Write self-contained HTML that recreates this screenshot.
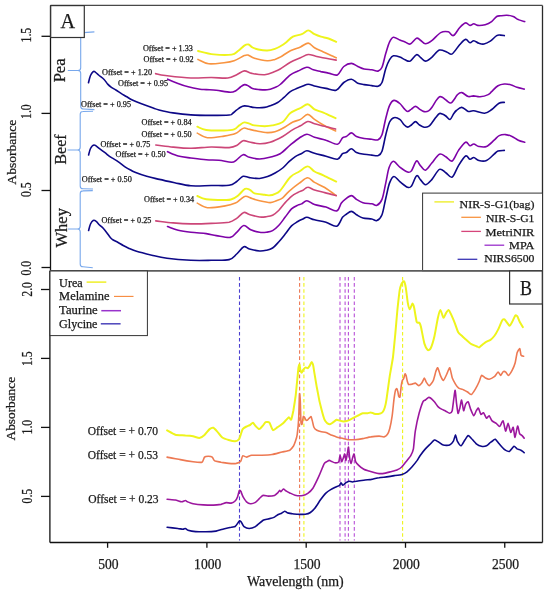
<!DOCTYPE html><html><head><meta charset="utf-8"><style>html,body{margin:0;padding:0;background:#fff;}svg{display:block;filter:blur(0.3px);}text{font-family:"Liberation Serif",serif;fill:#1a1a1a;stroke:#1a1a1a;stroke-width:0.25px;}</style></head><body>
<svg width="550" height="595" viewBox="0 0 550 595">
<rect width="550" height="595" fill="#fff"/>
<g fill="none" stroke-linecap="round" stroke-linejoin="round" stroke-width="1.6">
<path d="M198.0,51.0 C200.6,51.6 208.2,53.8 213.8,54.4 C219.4,55.0 227.6,55.2 231.6,54.6 C235.6,54.0 235.9,52.5 238.0,51.0 C240.1,49.5 242.6,46.7 244.3,45.6 C246.1,44.5 247.1,44.2 248.5,44.5 C249.9,44.8 250.9,46.7 252.5,47.5 C254.1,48.3 255.9,49.0 258.3,49.5 C260.8,50.0 264.4,50.6 267.2,50.5 C270.0,50.4 272.8,49.5 274.9,48.8 C277.0,48.1 278.3,47.5 280.0,46.5 C281.7,45.5 283.2,44.7 285.3,43.1 C287.4,41.5 290.1,38.2 292.9,36.7 C295.6,35.2 299.2,35.2 301.8,34.2 C304.4,33.2 306.1,30.4 308.2,30.4 C310.3,30.4 312.4,33.2 314.5,34.2 C316.6,35.2 318.6,36.0 320.9,36.7 C323.2,37.4 325.9,37.6 328.5,38.5 C331.1,39.4 334.9,41.2 336.2,41.8" stroke="#EEF41C" stroke-width="1.9"/>
<path d="M198.0,59.4 C199.8,60.1 204.4,63.2 208.7,63.8 C213.0,64.3 219.8,63.2 224.0,62.7 C228.2,62.2 230.7,61.9 234.1,60.7 C237.5,59.5 242.0,56.5 244.3,55.6 C246.6,54.7 246.4,54.7 248.1,55.1 C249.8,55.5 251.3,57.3 254.5,58.2 C257.7,59.1 263.8,60.5 267.2,60.7 C270.6,60.9 272.7,60.0 274.9,59.4 C277.1,58.8 277.6,58.5 280.2,57.1 C282.8,55.7 287.0,52.4 290.4,50.7 C293.8,49.0 297.5,48.2 300.5,46.9 C303.5,45.6 305.9,43.0 308.2,43.1 C310.5,43.2 312.0,46.2 314.5,47.7 C317.0,49.2 319.8,50.3 323.4,52.0 C327.0,53.7 334.1,56.8 336.2,57.8" stroke="#F89441"/>
<path d="M155.6,73.6 C157.2,73.9 159.5,74.8 165.4,75.5 C171.3,76.2 183.3,77.7 190.9,78.0 C198.5,78.3 205.0,77.5 211.2,77.5 C217.3,77.5 223.6,78.5 227.8,78.0 C232.1,77.5 233.9,75.9 236.7,74.7 C239.4,73.5 241.8,71.1 244.3,70.9 C246.9,70.7 248.6,72.8 252.0,73.4 C255.4,74.0 260.9,75.0 264.7,74.7 C268.5,74.4 272.3,72.5 274.9,71.5 C277.5,70.5 277.6,70.5 280.2,69.0 C282.8,67.5 287.0,64.1 290.4,62.2 C293.8,60.3 297.5,59.1 300.5,57.8 C303.5,56.5 305.6,54.8 308.2,54.5 C310.8,54.2 312.8,55.7 315.8,56.3 C318.8,56.9 322.6,57.7 326.0,58.3 C329.4,58.9 334.5,59.8 336.2,60.1" stroke="#CC4678"/>
<path d="M167.6,79.2 C169.2,79.9 173.9,81.9 177.3,83.2 C180.7,84.5 184.4,85.8 188.2,86.8 C192.0,87.8 197.0,88.7 200.0,89.2 C203.0,89.7 203.5,89.4 206.2,89.6 C208.9,89.8 212.3,89.8 216.3,90.2 C220.3,90.7 227.0,92.2 230.3,92.3 C233.6,92.3 234.5,91.4 236.2,90.5 C237.9,89.6 239.1,88.0 240.5,87.0 C241.9,86.0 243.3,84.8 244.6,84.6 C245.9,84.4 247.2,85.3 248.5,86.0 C249.8,86.7 250.9,87.9 252.5,88.5 C254.1,89.1 255.9,89.3 258.3,89.5 C260.8,89.7 264.4,90.1 267.2,89.8 C270.0,89.5 272.7,88.3 274.9,87.4 C277.1,86.5 277.6,86.6 280.2,84.5 C282.8,82.4 287.4,77.1 290.4,74.9 C293.4,72.7 295.2,72.4 298.0,71.1 C300.8,69.8 304.3,67.5 306.9,67.3 C309.4,67.1 311.0,69.1 313.3,69.8 C315.6,70.5 318.4,71.0 320.9,71.6 C323.4,72.1 325.8,72.5 328.5,73.1 C331.2,73.6 334.8,76.0 337.4,74.9 C339.9,73.8 341.5,68.4 343.8,66.5 C346.1,64.6 349.1,63.4 351.4,63.4 C353.7,63.4 355.7,65.6 357.8,66.5 C359.9,67.4 361.8,68.5 364.1,69.0 C366.4,69.5 369.5,69.5 371.8,69.8 C374.1,70.1 376.4,71.5 378.1,71.1 C379.8,70.7 380.7,70.3 382.0,67.3 C383.3,64.3 384.5,57.5 385.8,53.3 C387.1,49.0 388.3,44.5 389.6,41.8 C390.9,39.1 391.7,37.5 393.4,37.2 C395.1,36.9 397.9,39.2 399.8,40.0 C401.8,40.8 403.4,41.3 405.1,42.0 C406.8,42.7 408.3,44.6 410.2,44.0 C412.1,43.4 414.8,38.8 416.5,38.2 C418.2,37.6 418.9,39.3 420.4,40.2 C421.9,41.1 423.5,43.7 425.4,43.8 C427.3,43.9 429.2,42.6 431.8,40.7 C434.4,38.8 437.9,34.1 440.7,32.6 C443.4,31.1 446.2,31.3 448.3,31.8 C450.4,32.3 451.5,36.3 453.4,35.6 C455.3,34.9 457.8,29.6 459.8,27.5 C461.8,25.4 463.9,23.2 465.6,22.9 C467.3,22.5 468.6,25.3 470.0,25.4 C471.4,25.5 472.5,23.7 473.8,23.7 C475.1,23.7 475.7,25.2 477.6,25.4 C479.5,25.6 482.9,25.3 485.2,24.7 C487.5,24.1 489.7,23.0 491.6,21.6 C493.5,20.2 495.2,17.5 496.7,16.5 C498.2,15.5 498.8,16.0 500.5,15.8 C502.2,15.6 504.8,15.2 506.9,15.3 C509.0,15.4 511.3,15.8 513.2,16.5 C515.1,17.2 516.4,18.8 518.3,19.6 C520.2,20.5 523.6,21.3 524.7,21.6" stroke="#7E03A8"/>
<path d="M88.5,82.7 C88.8,81.5 89.7,77.3 90.5,75.5 C91.3,73.7 92.5,72.2 93.2,71.6 C94.0,71.0 94.1,71.2 95.0,71.8 C95.9,72.4 97.1,73.7 98.6,75.0 C100.1,76.3 102.6,78.0 104.1,79.5 C105.6,81.0 106.5,82.8 107.7,84.1 C108.9,85.4 110.0,86.3 111.4,87.3 C112.8,88.3 114.2,89.0 115.9,90.0 C117.6,91.0 119.6,92.5 121.4,93.6 C123.2,94.7 125.0,95.7 126.8,96.8 C128.6,97.9 129.9,98.8 132.3,100.0 C134.8,101.2 138.0,102.5 141.5,103.8 C145.0,105.1 150.3,107.0 153.2,108.0 C156.1,109.0 155.7,109.2 159.0,110.0 C162.3,110.8 167.7,112.1 173.0,112.9 C178.3,113.7 184.5,114.5 190.9,114.9 C197.3,115.3 204.8,115.4 211.2,115.4 C217.6,115.4 225.8,115.3 229.3,115.0 C232.9,114.7 231.3,114.3 232.5,113.5 C233.7,112.7 235.2,111.2 236.5,110.2 C237.8,109.2 239.2,107.9 240.5,107.2 C241.8,106.5 243.0,106.0 244.5,105.9 C246.0,105.8 247.6,106.2 249.3,106.5 C251.0,106.8 251.9,107.3 254.5,107.5 C257.1,107.7 262.1,107.7 264.7,107.4 C267.3,107.1 267.9,106.6 270.1,105.8 C272.3,105.0 275.4,103.9 277.7,102.5 C280.0,101.1 281.9,99.2 284.0,97.4 C286.1,95.6 288.2,93.2 290.3,91.7 C292.4,90.2 294.5,89.5 296.6,88.6 C298.7,87.7 301.0,86.8 302.9,86.1 C304.8,85.4 306.0,84.2 308.2,84.2 C310.4,84.2 312.8,85.6 315.8,86.3 C318.8,87.0 322.6,87.8 326.0,88.4 C329.4,89.1 333.2,91.2 336.2,90.2 C339.2,89.2 341.3,84.3 343.8,82.5 C346.3,80.7 349.1,79.1 351.4,79.2 C353.7,79.3 355.7,82.4 357.8,83.3 C359.9,84.2 361.8,84.2 364.1,84.6 C366.4,85.0 369.5,85.3 371.8,85.6 C374.1,85.9 376.4,86.8 378.1,86.3 C379.8,85.8 380.7,85.5 382.0,82.5 C383.3,79.5 384.5,72.3 385.8,68.5 C387.1,64.7 388.3,61.7 389.6,59.6 C390.9,57.5 391.7,56.2 393.4,55.8 C395.1,55.4 397.9,56.4 399.8,57.1 C401.8,57.8 403.4,59.1 405.1,59.8 C406.8,60.5 408.3,62.0 410.2,61.1 C412.1,60.2 414.8,55.3 416.5,54.7 C418.2,54.1 418.9,56.2 420.4,57.3 C421.9,58.4 423.5,61.1 425.4,61.1 C427.3,61.1 429.5,59.1 431.8,57.3 C434.1,55.5 436.8,51.0 439.4,50.1 C441.9,49.2 445.0,51.6 447.1,52.2 C449.2,52.8 450.1,55.2 452.2,53.9 C454.3,52.6 457.6,46.9 459.8,44.5 C462.0,42.1 463.9,39.7 465.6,39.4 C467.3,39.1 468.6,42.5 470.0,42.7 C471.4,42.9 472.3,40.6 473.8,40.7 C475.3,40.8 477.2,42.8 478.9,43.3 C480.6,43.8 482.1,44.4 484.0,44.0 C485.9,43.6 488.2,42.6 490.3,41.2 C492.4,39.8 495.0,36.6 496.7,35.6 C498.4,34.6 499.2,35.1 500.5,35.1 C501.8,35.1 503.7,35.5 504.3,35.6" stroke="#0D0887"/>
<path d="M197.3,126.7 C198.8,127.2 201.8,129.4 206.2,130.0 C210.6,130.6 219.3,130.6 224.0,130.5 C228.7,130.4 231.6,130.2 234.1,129.3 C236.6,128.5 237.5,126.6 239.2,125.4 C240.9,124.2 242.6,122.7 244.3,122.4 C246.0,122.1 247.7,123.2 249.4,123.7 C251.1,124.2 251.9,125.0 254.5,125.4 C257.1,125.8 261.7,126.2 264.7,126.2 C267.7,126.2 269.3,126.1 272.3,125.4 C275.3,124.7 279.7,124.0 282.7,122.0 C285.7,120.0 287.4,115.4 290.4,113.1 C293.4,110.8 297.6,109.5 300.5,108.0 C303.4,106.5 305.4,104.0 307.7,104.2 C310.0,104.4 311.9,107.9 314.5,109.3 C317.1,110.7 319.9,111.1 323.4,112.6 C326.9,114.1 333.6,117.3 335.6,118.2" stroke="#EEF41C" stroke-width="1.9"/>
<path d="M197.3,133.1 C199.0,133.9 203.0,137.2 207.4,137.7 C211.8,138.2 219.3,136.8 224.0,136.1 C228.7,135.4 232.7,134.6 235.4,133.6 C238.2,132.6 239.0,130.9 240.5,130.0 C242.0,129.1 242.8,128.1 244.3,128.0 C245.8,127.9 247.3,128.8 249.4,129.3 C251.5,129.8 254.0,130.4 257.0,131.0 C260.0,131.6 264.2,132.5 267.2,132.6 C270.2,132.7 272.3,132.5 274.9,131.8 C277.5,131.1 279.7,129.9 282.7,128.3 C285.7,126.7 289.9,123.5 292.9,122.0 C295.9,120.5 298.0,120.7 300.5,119.4 C303.0,118.1 305.4,114.4 307.7,114.4 C310.0,114.4 311.7,117.5 314.5,119.4 C317.3,121.3 321.2,123.9 324.7,125.8 C328.2,127.7 333.8,130.1 335.6,130.9" stroke="#F89441"/>
<path d="M155.8,145.0 C158.7,145.3 167.2,146.5 173.1,147.1 C178.9,147.7 184.6,148.3 190.9,148.3 C197.2,148.3 204.8,147.1 211.2,147.0 C217.6,146.9 224.8,147.8 229.1,147.6 C233.3,147.3 234.4,146.7 236.7,145.5 C239.0,144.3 241.0,141.3 243.1,140.7 C245.2,140.1 246.7,141.5 249.4,142.0 C252.2,142.5 256.2,143.8 259.6,143.8 C263.0,143.9 266.1,143.5 270.0,142.3 C273.9,141.1 278.9,138.6 282.7,136.5 C286.5,134.4 289.9,131.4 292.9,129.6 C295.9,127.8 298.0,127.1 300.5,125.8 C303.0,124.5 305.4,121.8 307.7,121.5 C310.0,121.2 311.7,123.0 314.5,123.8 C317.3,124.6 321.2,125.4 324.7,126.3 C328.2,127.2 333.8,128.6 335.6,129.1" stroke="#CC4678"/>
<path d="M167.5,151.7 C169.3,152.4 174.3,154.9 178.2,156.0 C182.1,157.1 186.2,157.4 190.9,158.0 C195.6,158.6 201.5,159.4 206.2,159.8 C210.9,160.2 214.7,159.9 218.9,160.3 C223.1,160.7 228.6,162.4 231.6,162.3 C234.6,162.2 234.8,161.1 236.7,159.8 C238.6,158.5 241.0,155.1 243.1,154.7 C245.2,154.3 246.7,156.6 249.4,157.3 C252.2,158.0 256.2,159.0 259.6,159.0 C263.0,159.0 266.4,158.2 269.8,157.3 C273.2,156.4 276.8,155.9 280.2,153.8 C283.6,151.7 287.2,147.5 290.4,144.9 C293.6,142.3 296.6,139.8 299.3,138.0 C302.1,136.2 304.4,134.3 306.9,134.2 C309.4,134.1 311.3,136.3 314.5,137.3 C317.7,138.3 322.2,139.0 326.0,140.2 C329.8,141.3 334.6,144.6 337.4,144.2 C340.1,143.8 341.0,139.1 342.5,137.8 C344.0,136.5 344.8,137.3 346.3,136.5 C347.8,135.7 349.7,132.9 351.4,132.9 C353.1,132.9 354.4,135.6 356.5,136.5 C358.6,137.4 361.6,138.0 364.1,138.5 C366.7,139.0 369.5,139.1 371.8,139.3 C374.1,139.5 376.4,140.6 378.1,139.8 C379.8,139.0 380.7,138.3 382.0,134.7 C383.3,131.1 384.5,123.1 385.8,118.2 C387.1,113.3 388.2,108.4 389.6,105.4 C391.0,102.4 392.2,100.7 393.9,100.4 C395.6,100.1 398.1,102.1 399.8,103.5 C401.5,104.9 402.8,107.3 404.1,108.6 C405.4,109.9 406.5,111.4 407.7,111.5 C408.9,111.6 410.1,109.9 411.4,109.1 C412.7,108.2 414.1,106.4 415.5,106.4 C416.9,106.4 418.1,108.2 419.5,109.1 C420.9,110.0 422.6,111.3 424.1,111.6 C425.6,111.9 427.2,111.7 428.6,110.9 C430.0,110.1 431.1,108.5 432.3,106.8 C433.5,105.1 434.7,102.6 435.9,100.9 C437.1,99.2 438.4,97.4 439.5,96.8 C440.6,96.2 441.1,96.7 442.3,97.3 C443.5,97.9 445.1,99.5 446.5,100.5 C447.9,101.5 449.6,103.2 450.9,103.0 C452.2,102.8 453.4,100.4 454.5,99.0 C455.6,97.6 456.1,95.9 457.3,94.8 C458.5,93.7 460.0,92.3 461.8,92.6 C463.6,92.9 466.2,96.0 468.2,96.5 C470.2,97.0 471.6,95.9 473.6,95.9 C475.6,96.0 477.6,97.0 480.0,96.8 C482.4,96.6 486.3,95.5 488.2,94.6 C490.1,93.7 490.0,93.1 491.6,91.6 C493.2,90.1 495.9,87.1 498.0,85.8 C500.1,84.5 502.2,84.2 504.3,84.0 C506.4,83.8 508.6,84.2 510.7,84.8 C512.8,85.3 514.8,86.6 517.0,87.3 C519.2,88.0 523.0,88.8 524.2,89.1" stroke="#7E03A8"/>
<path d="M88.6,155.0 C88.9,153.9 89.6,150.2 90.5,148.5 C91.4,146.8 92.6,145.0 94.1,145.0 C95.6,145.0 97.7,147.3 99.5,148.6 C101.3,149.9 103.3,151.4 105.0,152.7 C106.7,154.0 108.0,155.3 109.5,156.4 C111.0,157.5 112.4,158.1 114.1,159.1 C115.8,160.1 117.7,161.4 119.5,162.7 C121.3,164.0 123.2,165.6 125.0,166.8 C126.8,168.0 128.8,169.1 130.5,170.0 C132.2,170.9 132.3,171.2 135.0,172.3 C137.7,173.4 142.6,175.1 146.7,176.3 C150.8,177.5 154.7,178.3 159.4,179.4 C164.1,180.5 169.4,181.6 174.7,182.7 C179.9,183.8 184.8,185.3 190.9,185.8 C197.0,186.3 204.8,185.6 211.2,185.5 C217.6,185.4 224.8,186.0 229.1,185.3 C233.3,184.6 234.4,183.0 236.7,181.5 C239.0,180.0 241.0,177.0 243.1,176.3 C245.2,175.7 246.7,177.2 249.4,177.6 C252.2,178.0 256.6,178.7 259.6,178.5 C262.6,178.3 265.0,177.5 267.6,176.6 C270.2,175.7 272.6,174.4 275.1,173.0 C277.6,171.6 280.4,169.9 282.7,168.0 C285.0,166.1 286.9,163.6 289.0,161.7 C291.1,159.8 293.2,158.0 295.3,156.6 C297.4,155.2 299.7,154.5 301.6,153.5 C303.5,152.5 304.8,150.8 306.9,150.8 C309.0,150.8 311.3,152.4 314.5,153.3 C317.7,154.2 322.2,155.2 326.0,156.2 C329.8,157.2 334.6,159.6 337.4,159.2 C340.1,158.8 341.0,154.7 342.5,153.6 C344.0,152.5 344.8,153.3 346.3,152.5 C347.8,151.7 349.7,148.7 351.4,148.7 C353.1,148.7 354.4,151.6 356.5,152.5 C358.6,153.4 361.6,153.9 364.1,154.3 C366.7,154.7 369.5,154.9 371.8,155.1 C374.1,155.3 376.4,156.2 378.1,155.6 C379.8,154.9 380.7,154.7 382.0,151.2 C383.3,147.7 384.5,139.6 385.8,134.7 C387.1,129.8 388.2,124.8 389.6,122.0 C391.0,119.2 392.2,118.1 393.9,117.7 C395.6,117.3 398.1,118.2 399.8,119.4 C401.5,120.6 402.8,123.4 404.1,124.7 C405.4,126.0 406.5,127.0 407.7,127.1 C408.9,127.1 410.1,125.9 411.4,125.0 C412.7,124.1 414.1,121.6 415.5,121.6 C416.9,121.6 418.1,124.1 419.5,125.0 C420.9,125.9 422.6,127.0 424.1,127.2 C425.6,127.4 427.2,127.2 428.6,126.4 C430.0,125.6 431.1,123.8 432.3,122.3 C433.5,120.8 434.7,118.8 435.9,117.3 C437.1,115.8 438.4,114.0 439.5,113.5 C440.6,113.0 441.2,113.7 442.3,114.1 C443.4,114.5 444.5,115.1 445.8,116.0 C447.1,116.9 448.7,119.8 450.0,119.5 C451.3,119.2 452.4,115.5 453.5,114.0 C454.6,112.5 455.0,111.6 456.4,110.5 C457.8,109.4 459.8,107.2 461.8,107.4 C463.8,107.6 466.2,110.8 468.2,111.4 C470.2,112.0 470.9,110.5 473.6,110.8 C476.3,111.1 481.5,113.4 484.5,113.2 C487.5,113.0 489.4,111.2 491.8,109.5 C494.2,107.8 496.9,104.4 499.0,103.2 C501.1,102.0 503.4,102.5 504.3,102.4" stroke="#0D0887"/>
<path d="M197.3,196.0 C198.8,196.6 201.8,198.6 206.2,199.3 C210.6,200.0 219.9,200.0 224.0,200.0 C228.1,200.0 228.7,200.2 231.0,199.5 C233.3,198.8 235.6,197.5 237.9,195.7 C240.2,193.9 243.0,189.9 245.0,188.9 C247.0,187.9 248.3,189.1 249.9,189.8 C251.5,190.6 252.0,192.6 254.5,193.4 C257.0,194.2 262.1,194.4 264.7,194.7 C267.3,195.0 268.4,195.5 270.1,195.3 C271.8,195.2 273.4,194.6 275.1,193.8 C276.8,193.0 277.6,193.4 280.2,190.6 C282.8,187.8 287.2,180.2 290.4,177.0 C293.6,173.8 296.4,173.3 299.3,171.5 C302.2,169.7 305.2,166.4 307.7,166.4 C310.2,166.4 311.9,170.0 314.5,171.5 C317.1,173.0 319.8,173.6 323.4,175.3 C327.0,177.0 334.1,180.6 336.2,181.6" stroke="#EEF41C" stroke-width="1.9"/>
<path d="M197.3,203.1 C199.0,203.9 203.0,207.2 207.4,207.7 C211.8,208.2 219.3,206.9 224.0,206.1 C228.7,205.3 232.7,204.2 235.4,203.1 C238.2,202.0 238.8,200.5 240.5,199.3 C242.2,198.2 243.7,196.3 245.6,196.2 C247.5,196.1 249.7,197.7 252.0,198.5 C254.3,199.3 256.6,200.1 259.6,200.8 C262.6,201.5 267.3,202.6 270.1,202.6 C272.9,202.6 274.3,201.5 276.4,200.7 C278.5,199.9 280.6,199.4 282.7,197.8 C284.8,196.2 286.2,193.7 289.0,191.3 C291.8,188.9 296.2,185.4 299.3,183.2 C302.4,180.9 305.2,177.9 307.7,177.8 C310.2,177.7 311.7,180.8 314.5,182.4 C317.3,184.0 321.1,185.3 324.7,187.5 C328.3,189.7 334.3,194.2 336.2,195.6" stroke="#F89441"/>
<path d="M155.8,220.9 C158.7,221.2 167.2,222.4 173.1,222.9 C178.9,223.4 184.6,223.8 190.9,223.9 C197.2,224.0 204.8,223.7 211.2,223.4 C217.6,223.1 224.8,223.0 229.1,222.2 C233.3,221.3 234.2,219.9 236.7,218.3 C239.1,216.7 241.7,213.1 243.8,212.5 C245.9,211.9 246.8,213.8 249.4,214.5 C252.0,215.2 256.8,216.6 259.6,217.0 C262.4,217.4 264.1,217.0 266.3,216.7 C268.5,216.4 270.5,216.3 272.6,215.2 C274.7,214.1 276.8,212.3 278.9,210.2 C281.0,208.1 283.1,204.9 285.2,202.6 C287.3,200.3 289.4,198.0 291.5,196.3 C293.6,194.6 295.9,193.5 297.8,192.5 C299.7,191.5 301.2,191.2 302.9,190.3 C304.5,189.4 305.8,187.2 307.7,187.2 C309.6,187.1 311.7,189.1 314.5,190.0 C317.3,190.9 321.1,191.7 324.7,192.6 C328.3,193.5 334.3,195.1 336.2,195.6" stroke="#CC4678"/>
<path d="M167.5,226.5 C169.3,227.1 174.3,229.3 178.2,230.3 C182.1,231.3 186.2,231.8 190.9,232.3 C195.6,232.9 202.0,233.1 206.2,233.6 C210.4,234.1 212.3,235.0 216.3,235.6 C220.3,236.2 226.9,237.9 230.3,237.4 C233.7,236.9 234.4,234.3 236.7,232.3 C238.9,230.3 241.5,225.9 243.8,225.5 C246.1,225.1 248.1,228.7 250.7,229.8 C253.3,230.9 257.0,231.9 259.6,232.3 C262.2,232.7 264.1,232.5 266.3,232.2 C268.5,231.9 270.5,231.8 272.6,230.6 C274.7,229.4 276.8,227.6 278.9,225.3 C281.0,223.1 283.1,219.8 285.2,217.1 C287.3,214.4 289.4,210.9 291.5,208.9 C293.6,206.9 296.1,205.9 297.8,205.1 C299.5,204.3 300.1,204.6 301.6,203.9 C303.1,203.2 304.8,200.6 306.9,200.7 C309.0,200.8 311.3,203.4 314.5,204.5 C317.7,205.6 322.3,206.0 326.0,207.1 C329.7,208.2 334.2,211.5 336.7,210.9 C339.2,210.3 339.8,205.2 341.2,203.3 C342.6,201.4 343.4,200.7 345.1,199.4 C346.8,198.1 349.5,195.6 351.4,195.6 C353.3,195.6 354.6,198.2 356.5,199.4 C358.4,200.6 360.3,202.0 362.9,202.7 C365.4,203.4 369.5,203.4 371.8,203.8 C374.1,204.2 375.2,206.0 376.9,205.3 C378.6,204.6 380.5,203.1 382.0,199.4 C383.5,195.7 384.6,188.2 385.8,182.9 C387.0,177.6 387.8,171.2 389.1,167.6 C390.4,164.0 391.6,161.4 393.4,161.3 C395.2,161.2 397.4,165.3 399.8,167.1 C402.2,168.9 405.7,171.4 407.6,172.0 C409.6,172.6 410.0,172.5 411.5,170.7 C413.0,168.9 415.0,161.8 416.5,161.0 C418.0,160.2 418.9,164.1 420.4,165.6 C421.9,167.1 423.5,170.6 425.4,170.2 C427.3,169.8 429.5,165.8 431.8,163.1 C434.1,160.4 437.1,155.3 439.4,154.2 C441.7,153.1 443.7,155.6 445.8,156.7 C447.9,157.8 450.1,162.1 452.2,161.0 C454.3,159.9 456.3,153.5 458.5,150.4 C460.7,147.3 463.7,143.0 465.6,142.2 C467.5,141.4 468.6,145.5 470.0,145.8 C471.4,146.1 472.3,143.9 473.8,144.0 C475.3,144.1 476.8,146.1 478.9,146.5 C481.0,146.9 484.0,147.6 486.5,146.5 C489.0,145.4 492.0,142.0 494.1,140.2 C496.2,138.4 497.3,136.5 499.2,135.6 C501.1,134.7 503.5,134.5 505.6,134.6 C507.7,134.7 509.9,135.5 512.0,136.4 C514.1,137.3 516.2,139.2 518.3,140.2 C520.4,141.2 523.6,141.9 524.7,142.2" stroke="#7E03A8"/>
<path d="M88.6,230.5 C88.9,229.4 89.7,225.7 90.5,224.0 C91.3,222.3 92.3,221.0 93.2,220.5 C94.1,220.0 94.9,220.4 95.9,221.2 C97.0,221.9 98.3,223.8 99.5,225.0 C100.7,226.2 102.0,226.9 103.2,228.2 C104.4,229.5 105.6,231.1 106.8,232.7 C108.0,234.3 109.4,236.5 110.5,237.7 C111.6,238.9 112.0,239.2 113.2,240.0 C114.4,240.8 116.0,241.4 117.7,242.3 C119.4,243.2 121.4,244.5 123.2,245.5 C125.0,246.5 126.4,247.2 128.6,248.2 C130.8,249.2 132.6,250.1 136.5,251.3 C140.4,252.5 146.7,254.0 151.8,255.2 C156.9,256.4 160.5,257.4 167.0,258.3 C173.5,259.2 183.5,260.0 190.9,260.3 C198.3,260.6 204.8,260.4 211.2,260.3 C217.6,260.2 224.8,260.7 229.1,259.6 C233.3,258.6 234.2,256.1 236.7,254.0 C239.1,251.9 241.7,247.7 243.8,246.8 C245.9,246.0 246.8,248.2 249.4,248.9 C252.0,249.6 256.8,250.8 259.6,251.0 C262.4,251.2 264.1,250.8 266.3,250.3 C268.5,249.8 270.5,249.4 272.6,248.0 C274.7,246.6 276.8,244.0 278.9,241.7 C281.0,239.4 283.1,236.7 285.2,234.1 C287.3,231.5 289.4,228.0 291.5,225.9 C293.6,223.8 295.9,222.7 297.8,221.5 C299.7,220.3 301.4,219.7 302.9,219.0 C304.4,218.3 305.0,217.2 306.9,217.3 C308.8,217.4 311.3,219.0 314.5,219.8 C317.7,220.6 322.3,221.2 326.0,222.3 C329.7,223.4 333.9,227.0 336.7,226.2 C339.4,225.4 341.0,219.2 342.5,217.3 C344.0,215.4 344.3,215.7 345.8,214.7 C347.3,213.7 349.6,211.4 351.4,211.4 C353.2,211.4 354.6,213.6 356.5,214.7 C358.4,215.8 360.3,217.3 362.9,218.0 C365.4,218.7 369.5,218.6 371.8,219.0 C374.1,219.4 375.2,221.3 376.9,220.6 C378.6,219.9 380.5,218.4 382.0,214.7 C383.5,211.0 384.5,203.5 385.8,198.2 C387.1,192.9 388.2,186.5 389.6,182.9 C391.0,179.3 392.2,176.7 393.9,176.5 C395.6,176.3 397.5,179.8 399.8,181.6 C402.1,183.4 405.7,186.6 407.6,187.3 C409.6,188.0 410.0,187.9 411.5,186.0 C413.0,184.1 415.0,176.9 416.5,175.8 C418.0,174.7 418.9,178.1 420.4,179.6 C421.9,181.1 423.5,184.7 425.4,184.7 C427.3,184.7 429.5,182.1 431.8,179.6 C434.1,177.1 437.1,170.6 439.4,169.4 C441.7,168.2 443.7,171.4 445.8,172.7 C447.9,174.0 450.1,178.3 452.2,177.1 C454.3,175.9 456.3,169.1 458.5,165.6 C460.7,162.1 463.7,157.1 465.6,156.0 C467.5,154.9 468.6,159.1 470.0,159.3 C471.4,159.6 472.3,157.3 473.8,157.5 C475.3,157.7 476.8,160.0 478.9,160.5 C481.0,161.0 484.0,161.6 486.5,160.5 C489.0,159.4 492.2,155.8 494.1,154.2 C496.0,152.6 496.3,151.5 498.0,150.9 C499.7,150.3 503.2,150.5 504.3,150.4" stroke="#0D0887"/>
</g>
<g fill="none" stroke="#78A8EC" stroke-width="1.1">
<path d="M94.4,31.9 L83.5,32.6 Q80.7,32.6 80.7,35.4 L80.7,67.7 Q80.7,70.5 77.9,70.5 L67.8,70.5 M77.9,70.5 Q80.7,70.5 80.7,73.3 L80.7,106.2 Q80.7,109 83.5,109 L94.4,109.6"/>
<path d="M93,111.2 L83.0,111.5 Q80.2,111.5 80.2,114.3 L80.2,147.2 Q80.2,150 77.4,150 L67.5,150 M77.4,150 Q80.2,150 80.2,152.8 L80.2,186.0 Q80.2,188.8 83.0,188.8 L93,189"/>
<path d="M92.8,190.6 L83.0,190.9 Q80.2,190.9 80.2,193.70000000000002 L80.2,226.2 Q80.2,229 77.4,229 L68,229 M77.4,229 Q80.2,229 80.2,231.8 L80.2,264.0 Q80.2,266.8 83.0,266.8 L92.8,267.8"/>
</g>
<text transform="translate(65.4,70.4) rotate(-90)" text-anchor="middle" font-size="17.3" textLength="23.9" lengthAdjust="spacingAndGlyphs">Pea</text>
<text transform="translate(66.4,149.5) rotate(-90)" text-anchor="middle" font-size="17.3" textLength="30" lengthAdjust="spacingAndGlyphs">Beef</text>
<text transform="translate(66.9,227.8) rotate(-90)" text-anchor="middle" font-size="17.3" textLength="39.4" lengthAdjust="spacingAndGlyphs">Whey</text>
<text x="142.9" y="50.5" font-size="7.9" textLength="50" lengthAdjust="spacingAndGlyphs">Offset = + 1.33</text>
<text x="143.6" y="62.3" font-size="7.9" textLength="50" lengthAdjust="spacingAndGlyphs">Offset = + 0.92</text>
<text x="102" y="75" font-size="7.9" textLength="50" lengthAdjust="spacingAndGlyphs">Offset = + 1.20</text>
<text x="118" y="85.9" font-size="7.9" textLength="50" lengthAdjust="spacingAndGlyphs">Offset = + 0.95</text>
<text x="81" y="106.7" font-size="7.9" textLength="50" lengthAdjust="spacingAndGlyphs">Offset = + 0.95</text>
<text x="141.6" y="125.4" font-size="7.9" textLength="50" lengthAdjust="spacingAndGlyphs">Offset = + 0.84</text>
<text x="141.6" y="136.9" font-size="7.9" textLength="50" lengthAdjust="spacingAndGlyphs">Offset = + 0.50</text>
<text x="100.4" y="147" font-size="7.9" textLength="50" lengthAdjust="spacingAndGlyphs">Offset = + 0.75</text>
<text x="115.6" y="157.3" font-size="7.9" textLength="50" lengthAdjust="spacingAndGlyphs">Offset = + 0.50</text>
<text x="81.8" y="182" font-size="7.9" textLength="50" lengthAdjust="spacingAndGlyphs">Offset = + 0.50</text>
<text x="144.1" y="202" font-size="7.9" textLength="50" lengthAdjust="spacingAndGlyphs">Offset = + 0.34</text>
<text x="101.4" y="223.2" font-size="7.9" textLength="50" lengthAdjust="spacingAndGlyphs">Offset = + 0.25</text>
<g fill="none" stroke="#111" stroke-width="1.3">
<line x1="50.5" y1="5.4" x2="50.5" y2="271" stroke="#141414"/><line x1="542.5" y1="5.4" x2="542.5" y2="271" stroke="#2a2a2a"/><line x1="50.5" y1="5.4" x2="542.5" y2="5.4" stroke="#484848" stroke-width="1.25"/>
<line x1="41.5" y1="36.3" x2="50.7" y2="36.3"/>
<line x1="41.5" y1="113.4" x2="50.7" y2="113.4"/>
<line x1="41.5" y1="190.5" x2="50.7" y2="190.5"/>
<line x1="41.5" y1="267.5" x2="50.7" y2="267.5"/>
</g>
<rect x="50.7" y="5.6" width="33.6" height="31.9" fill="#fff" stroke="#333" stroke-width="1.2"/>
<text x="60.4" y="27.6" font-size="21" textLength="14.6" lengthAdjust="spacingAndGlyphs">A</text>
<text transform="translate(31.4,35.1) rotate(-90)" text-anchor="middle" font-size="13.6" textLength="14.6" lengthAdjust="spacingAndGlyphs">1.5</text>
<text transform="translate(31.4,111.6) rotate(-90)" text-anchor="middle" font-size="13.6" textLength="14.6" lengthAdjust="spacingAndGlyphs">1.0</text>
<text transform="translate(31.4,189.6) rotate(-90)" text-anchor="middle" font-size="13.6" textLength="14.6" lengthAdjust="spacingAndGlyphs">0.5</text>
<text transform="translate(31.4,268.2) rotate(-90)" text-anchor="middle" font-size="13.6" textLength="14.6" lengthAdjust="spacingAndGlyphs">0.0</text>
<text transform="translate(15.5,152.2) rotate(-90)" text-anchor="middle" font-size="12.2" textLength="65" lengthAdjust="spacingAndGlyphs">Absorbance</text>
<rect x="422.6" y="193.1" width="119.9" height="77.7" fill="#fff" stroke="#333" stroke-width="1"/>
<line x1="434.4" y1="201.9" x2="454" y2="201.9" stroke="#EDED1E" stroke-width="1.3"/>
<text x="534.4" y="207.9" text-anchor="end" font-size="11" textLength="74.8" lengthAdjust="spacingAndGlyphs">NIR-S-G1(bag)</text>
<line x1="461.3" y1="217.3" x2="480.9" y2="217.3" stroke="#F89441" stroke-width="1.3"/>
<text x="534.4" y="221.8" text-anchor="end" font-size="11" textLength="48.5" lengthAdjust="spacingAndGlyphs">NIR-S-G1</text>
<line x1="461.3" y1="231.4" x2="480.9" y2="231.4" stroke="#D6457A" stroke-width="1.3"/>
<text x="534.4" y="235.5" text-anchor="end" font-size="11" textLength="49" lengthAdjust="spacingAndGlyphs">MetriNIR</text>
<line x1="484.5" y1="245.2" x2="504.2" y2="245.2" stroke="#9A30CC" stroke-width="1.3"/>
<text x="534.4" y="248.9" text-anchor="end" font-size="11" textLength="25.3" lengthAdjust="spacingAndGlyphs">MPA</text>
<line x1="457.6" y1="259.3" x2="477.3" y2="259.3" stroke="#3A35B5" stroke-width="1.3"/>
<text x="534.4" y="262" text-anchor="end" font-size="11" textLength="50.2" lengthAdjust="spacingAndGlyphs">NIRS6500</text>
<line x1="239.5" y1="277" x2="239.5" y2="540.5" stroke="#4A3FD0" stroke-width="1.1" stroke-dasharray="3.6,2.5"/>
<line x1="299.6" y1="277" x2="299.6" y2="540.5" stroke="#ED7953" stroke-width="1.1" stroke-dasharray="3.6,2.5"/>
<line x1="303.9" y1="277" x2="303.9" y2="540.5" stroke="#EEF41C" stroke-width="1.1" stroke-dasharray="3.6,2.5"/>
<line x1="340" y1="277" x2="340" y2="540.5" stroke="#B84FD8" stroke-width="1.1" stroke-dasharray="3.6,2.5"/>
<line x1="345.1" y1="277" x2="345.1" y2="540.5" stroke="#B84FD8" stroke-width="1.1" stroke-dasharray="3.6,2.5"/>
<line x1="348.4" y1="277" x2="348.4" y2="540.5" stroke="#B84FD8" stroke-width="1.1" stroke-dasharray="3.6,2.5"/>
<line x1="354.3" y1="277" x2="354.3" y2="540.5" stroke="#B84FD8" stroke-width="1.1" stroke-dasharray="3.6,2.5"/>
<line x1="402.6" y1="277" x2="402.6" y2="540.5" stroke="#EEF41C" stroke-width="1.1" stroke-dasharray="3.6,2.5"/>
<g fill="none" stroke-linecap="round" stroke-linejoin="round" stroke-width="1.6">
<path d="M167.1,430.4 C167.9,430.8 173.5,434.2 175.3,434.7 C177.1,435.2 183.6,435.2 185.4,435.4 C187.2,435.5 191.7,435.9 193.1,436.2 C194.5,436.5 198.3,438.1 199.4,438.0 C200.5,437.9 203.5,435.8 204.5,434.9 C205.5,434.0 208.7,429.8 209.6,429.1 C210.5,428.4 212.6,427.6 213.4,427.8 C214.2,428.1 216.4,430.6 217.3,431.6 C218.2,432.6 221.2,436.7 222.3,437.5 C223.4,438.3 227.4,439.6 228.7,440.0 C230.0,440.4 234.1,441.4 235.1,441.3 C236.1,441.2 238.3,440.0 238.9,439.3 C239.5,438.6 240.5,435.2 240.9,434.2 C241.3,433.2 242.1,429.9 242.7,429.1 C243.3,428.3 245.7,426.9 246.5,426.5 C247.3,426.1 249.7,425.2 250.3,424.8 C250.9,424.4 252.4,422.6 252.9,422.7 C253.4,422.8 254.8,425.2 255.4,425.8 C256.0,426.4 258.4,429.2 259.2,429.1 C260.0,429.1 262.5,426.0 263.1,425.3 C263.7,424.6 265.0,422.5 265.6,422.2 C266.2,421.9 268.7,421.9 269.4,422.7 C270.1,423.5 272.2,429.8 273.0,430.2 C273.8,430.6 276.7,427.8 277.6,427.2 C278.5,426.6 281.3,424.8 282.1,424.1 C282.9,423.4 285.2,421.0 285.9,420.3 C286.6,419.6 288.4,417.4 288.9,417.3 C289.4,417.2 290.8,420.3 291.2,419.6 C291.6,418.9 292.9,412.9 293.4,410.5 C293.8,408.1 295.3,398.4 295.7,395.4 C296.1,392.4 296.9,383.0 297.2,380.3 C297.5,377.6 298.2,369.8 298.4,368.2 C298.6,366.6 299.3,364.2 299.5,364.4 C299.7,364.5 300.1,368.9 300.3,369.7 C300.5,370.5 301.5,372.7 301.8,372.7 C302.1,372.7 302.9,370.2 303.3,369.7 C303.7,369.2 305.2,367.5 305.6,367.4 C306.1,367.2 307.4,368.3 307.8,368.2 C308.2,368.1 309.2,366.5 309.6,365.9 C310.0,365.3 311.2,362.2 311.6,362.1 C312.0,362.0 312.8,363.9 313.1,365.1 C313.4,366.3 314.2,371.9 314.6,374.2 C315.0,376.5 316.4,385.2 316.9,387.8 C317.4,390.4 318.8,397.8 319.2,399.9 C319.6,402.0 320.9,407.0 321.4,409.0 C321.9,411.0 323.9,418.2 324.5,419.6 C325.1,421.0 326.9,422.9 327.5,423.4 C328.1,423.8 329.9,424.2 330.5,424.1 C331.1,424.0 332.7,422.6 333.3,422.2 C333.9,421.8 335.9,419.9 336.5,419.7 C337.1,419.5 339.1,420.4 339.8,420.6 C340.5,420.8 343.1,421.4 343.9,421.4 C344.7,421.4 347.1,420.9 348.0,420.6 C348.9,420.3 351.9,418.6 352.9,418.1 C353.9,417.6 356.8,416.1 357.8,415.6 C358.8,415.1 361.7,413.4 362.7,413.2 C363.7,413.0 366.8,413.3 367.6,413.2 C368.4,413.1 370.2,412.3 370.9,412.4 C371.6,412.4 373.5,413.5 374.2,413.7 C374.9,413.9 377.5,414.1 378.3,414.0 C379.1,413.9 381.8,413.0 382.4,412.4 C383.0,411.8 384.4,408.8 384.8,407.5 C385.2,406.2 386.2,401.3 386.5,399.3 C386.8,397.3 387.8,390.1 388.1,387.8 C388.4,385.5 389.4,378.5 389.7,376.4 C390.0,374.3 391.1,368.4 391.4,366.5 C391.7,364.6 392.6,360.1 393.0,357.0 C393.4,353.9 394.6,340.9 395.1,336.0 C395.6,331.1 397.1,312.6 397.6,308.0 C398.1,303.4 399.3,292.6 399.7,290.2 C400.1,287.8 401.1,284.7 401.5,283.8 C401.9,282.9 403.6,280.9 404.0,281.3 C404.4,281.7 405.4,285.4 405.8,287.6 C406.2,289.8 407.4,300.7 407.8,302.9 C408.2,305.1 409.3,309.2 409.8,309.3 C410.3,309.4 412.0,303.5 412.4,303.4 C412.8,303.3 413.8,306.1 414.2,308.0 C414.6,309.9 416.2,320.5 416.7,322.0 C417.2,323.5 418.9,322.2 419.3,322.7 C419.7,323.2 420.5,325.0 421.0,327.1 C421.5,329.2 423.7,341.3 424.4,343.6 C425.1,345.9 427.1,349.5 427.7,350.0 C428.3,350.5 430.0,349.6 430.7,348.2 C431.4,346.8 433.8,339.0 434.5,336.0 C435.2,333.0 437.2,320.8 437.8,318.2 C438.4,315.6 439.8,310.1 440.4,310.0 C441.0,309.9 442.8,317.4 443.4,317.7 C444.0,318.0 445.5,313.9 446.0,313.1 C446.5,312.3 448.0,309.9 448.5,310.0 C449.0,310.1 450.5,313.1 451.1,314.4 C451.7,315.7 454.2,321.5 454.9,323.3 C455.6,325.1 457.4,330.9 458.2,332.2 C459.0,333.5 461.7,335.7 462.5,336.5 C463.3,337.3 465.4,339.0 466.3,339.8 C467.2,340.6 470.4,343.5 471.4,344.1 C472.4,344.7 475.7,345.9 476.5,346.2 C477.3,346.5 478.5,347.5 479.1,347.4 C479.7,347.3 481.5,345.4 482.1,344.9 C482.7,344.4 484.6,342.8 485.4,342.3 C486.2,341.8 489.6,340.4 490.5,339.8 C491.4,339.2 493.5,337.0 494.3,336.0 C495.1,335.0 497.3,331.1 498.1,329.6 C498.9,328.1 501.4,321.7 502.0,320.7 C502.6,319.7 503.7,318.9 504.5,319.4 C505.3,319.9 508.8,325.5 509.6,325.8 C510.4,326.1 511.5,323.0 512.1,322.0 C512.7,321.0 514.7,316.2 515.2,315.6 C515.7,315.0 516.7,315.5 517.2,316.1 C517.7,316.7 519.2,320.9 519.8,322.0 C520.4,323.1 522.5,326.6 522.8,327.1" stroke="#EEF41C" stroke-width="2"/>
<path d="M167.1,457.1 C168.4,457.4 177.8,459.1 180.4,459.6 C183.0,460.1 190.9,461.4 193.1,461.7 C195.3,462.0 200.9,462.7 202.0,462.2 C203.1,461.7 203.9,457.7 204.5,457.1 C205.1,456.5 207.5,456.3 208.3,456.3 C209.1,456.3 211.6,456.6 212.2,457.1 C212.8,457.6 213.8,460.4 214.7,460.9 C215.6,461.4 219.7,461.9 221.1,462.2 C222.5,462.4 227.2,463.3 228.7,463.4 C230.2,463.5 235.1,463.6 236.3,463.4 C237.5,463.1 240.3,461.7 240.9,460.9 C241.5,460.1 242.1,456.2 242.7,455.8 C243.3,455.4 245.6,457.2 246.5,457.1 C247.4,457.1 250.1,455.5 251.6,455.3 C253.1,455.1 259.8,455.4 261.8,455.3 C263.8,455.2 270.0,454.8 272.0,454.5 C274.0,454.2 280.3,452.4 282.1,452.0 C283.9,451.6 288.7,450.8 289.8,450.2 C290.9,449.6 292.9,446.9 293.5,446.0 C294.1,445.1 295.1,442.1 295.5,441.0 C295.9,439.9 296.9,437.0 297.2,434.7 C297.5,432.4 298.5,422.2 298.7,418.1 C298.9,414.0 299.3,395.6 299.5,393.9 C299.7,392.2 300.2,398.5 300.3,401.4 C300.4,404.3 300.8,420.3 301.0,422.6 C301.2,424.9 301.9,424.7 302.1,424.1 C302.3,423.5 303.1,417.3 303.3,416.6 C303.5,415.9 304.3,417.0 304.5,417.3 C304.7,417.6 305.3,419.3 305.6,419.6 C305.9,419.9 306.8,420.4 307.1,420.3 C307.4,420.2 308.3,419.1 308.6,418.8 C308.9,418.5 309.9,417.5 310.1,417.3 C310.4,417.1 310.9,416.2 311.1,416.6 C311.3,417.0 312.1,420.0 312.4,421.1 C312.7,422.2 313.4,426.3 313.9,427.2 C314.3,428.1 316.1,429.8 316.9,430.2 C317.6,430.6 320.5,431.5 321.4,431.7 C322.3,431.9 325.1,432.2 326.0,432.5 C326.9,432.8 329.4,434.3 330.5,434.7 C331.6,435.1 335.2,436.5 336.5,436.9 C337.8,437.3 342.0,438.3 343.1,438.6 C344.2,438.9 346.9,439.6 348.0,439.7 C349.1,439.8 353.0,439.8 354.5,439.7 C356.0,439.6 361.1,438.9 362.7,438.6 C364.3,438.3 369.3,437.1 370.9,436.9 C372.5,436.6 377.8,436.1 379.1,436.1 C380.4,436.1 383.2,437.1 384.0,436.9 C384.8,436.7 386.7,435.3 387.3,434.5 C387.9,433.7 389.2,430.6 389.7,428.7 C390.2,426.8 391.8,418.4 392.2,415.6 C392.6,412.8 393.5,403.4 393.8,400.9 C394.1,398.4 395.2,391.5 395.5,390.3 C395.8,389.1 396.6,388.4 396.8,388.6 C397.0,388.8 397.7,391.1 397.9,391.9 C398.1,392.7 398.5,395.8 398.7,396.3 C398.9,396.8 399.8,397.8 400.0,396.8 C400.2,395.8 401.0,387.8 401.2,386.2 C401.4,384.6 402.1,381.2 402.3,380.5 C402.5,379.8 403.3,379.5 403.6,378.8 C403.9,378.1 404.8,374.2 405.0,373.9 C405.2,373.6 405.9,374.8 406.1,375.5 C406.3,376.2 407.1,380.4 407.3,381.3 C407.6,382.2 408.2,384.2 408.6,384.5 C409.0,384.8 410.9,384.4 411.6,384.3 C412.3,384.2 414.7,383.0 415.4,383.1 C416.1,383.2 417.9,385.6 418.5,385.6 C419.1,385.6 421.2,383.9 421.8,383.1 C422.4,382.3 424.0,378.1 424.4,378.0 C424.8,377.9 425.6,381.0 426.1,381.8 C426.6,382.6 428.7,385.7 429.4,385.6 C430.1,385.5 432.7,381.9 433.3,380.5 C433.9,379.1 435.4,372.9 435.8,371.6 C436.2,370.3 437.3,367.4 437.8,367.8 C438.3,368.2 439.8,374.1 440.4,375.4 C441.0,376.7 442.7,380.8 443.4,380.5 C444.1,380.2 446.7,374.2 447.3,372.9 C447.9,371.6 449.3,367.3 449.8,367.8 C450.3,368.3 451.7,376.4 452.3,378.0 C452.9,379.6 455.0,383.3 455.6,384.3 C456.2,385.3 457.9,387.5 458.7,388.1 C459.5,388.7 462.9,389.5 463.8,389.9 C464.7,390.3 466.8,391.5 467.6,392.0 C468.4,392.5 470.6,394.8 471.4,394.5 C472.2,394.2 474.4,390.7 475.2,389.4 C476.0,388.1 478.5,383.2 479.1,381.8 C479.7,380.4 481.0,375.8 481.6,375.4 C482.2,375.0 484.6,377.6 485.4,378.0 C486.2,378.4 488.3,379.3 489.2,379.2 C490.1,379.1 493.4,377.4 494.3,376.7 C495.2,376.0 497.5,372.2 498.1,372.1 C498.7,372.0 500.2,375.4 500.7,375.4 C501.2,375.3 502.7,371.9 503.2,371.6 C503.7,371.3 505.3,371.7 505.8,372.1 C506.3,372.5 507.7,375.6 508.3,375.4 C508.9,375.2 511.4,371.6 512.1,370.3 C512.8,369.0 514.7,364.5 515.2,362.7 C515.7,360.9 516.7,353.9 517.2,352.5 C517.7,351.1 519.4,348.4 519.8,348.7 C520.2,349.0 520.6,354.3 521.0,355.1 C521.4,355.9 523.3,356.2 523.6,356.3" stroke="#ED7953"/>
<path d="M167.1,499.3 C167.9,499.4 173.9,499.8 175.3,500.0 C176.8,500.2 180.6,501.8 181.6,501.8 C182.6,501.9 184.8,500.5 185.4,500.5 C186.0,500.5 186.7,501.5 187.5,501.8 C188.3,502.1 191.5,503.5 193.1,503.8 C194.7,504.1 201.3,504.8 203.3,504.9 C205.3,505.0 211.6,505.2 213.4,505.1 C215.2,505.1 219.8,504.6 221.1,504.4 C222.4,504.1 225.2,502.7 226.2,502.6 C227.2,502.5 230.3,503.3 231.2,503.1 C232.1,502.9 234.5,501.6 235.1,501.0 C235.7,500.4 237.2,497.8 237.6,496.7 C238.0,495.6 239.1,490.9 239.4,490.4 C239.7,489.9 240.7,491.2 240.9,491.6 C241.2,492.0 241.7,493.6 241.9,494.2 C242.2,494.8 242.9,496.6 243.4,497.4 C243.9,498.2 245.8,501.2 246.5,501.8 C247.2,502.4 249.5,503.6 250.4,503.7 C251.3,503.8 254.5,502.9 255.4,502.4 C256.3,501.9 258.5,499.3 259.3,498.6 C260.1,497.9 262.2,495.6 263.1,495.4 C264.0,495.1 267.1,496.1 268.2,496.1 C269.3,496.1 273.6,495.7 274.5,495.4 C275.4,495.1 277.2,493.4 277.7,492.9 C278.2,492.4 279.3,490.5 279.6,490.4 C279.9,490.3 280.5,491.7 280.9,491.6 C281.3,491.5 282.9,489.2 283.4,489.1 C283.9,489.0 285.4,490.5 286.0,490.9 C286.6,491.3 288.9,492.5 289.8,492.9 C290.7,493.3 293.8,494.9 295.1,495.2 C296.4,495.5 301.4,495.7 302.7,495.5 C304.0,495.3 306.8,494.1 307.8,493.4 C308.8,492.7 311.9,489.8 312.9,488.3 C313.9,486.8 317.1,480.1 318.0,478.2 C318.9,476.3 321.2,470.8 321.8,469.3 C322.4,467.8 323.9,464.2 324.4,463.4 C324.9,462.6 326.4,461.9 326.9,461.6 C327.4,461.3 328.9,460.4 329.4,460.4 C329.9,460.4 331.4,461.4 332.0,461.6 C332.6,461.9 335.1,462.9 335.8,462.9 C336.5,462.9 338.5,462.4 338.9,461.6 C339.3,460.8 339.8,455.3 340.1,455.3 C340.4,455.3 341.4,461.4 341.7,461.6 C342.0,461.9 343.1,458.6 343.4,457.8 C343.7,457.0 344.4,453.7 344.7,454.0 C345.0,454.3 345.7,460.5 346.0,460.4 C346.3,460.3 347.2,454.0 347.5,452.7 C347.8,451.4 348.3,446.5 348.5,447.1 C348.7,447.7 349.5,457.5 349.8,459.1 C350.1,460.7 350.8,463.5 351.1,463.4 C351.4,463.3 352.3,458.7 352.6,457.8 C352.9,456.9 353.8,453.6 354.1,454.0 C354.4,454.4 355.1,460.5 355.6,461.6 C356.1,462.7 357.9,464.6 358.7,465.4 C359.5,466.2 362.8,468.7 363.8,469.3 C364.8,469.9 367.9,470.7 368.9,471.0 C369.9,471.3 373.0,472.3 374.0,472.6 C375.0,472.9 378.0,473.6 379.1,473.6 C380.2,473.7 384.3,473.3 385.4,473.1 C386.5,472.9 389.4,472.1 390.5,471.8 C391.6,471.5 395.8,470.5 396.9,470.0 C398.0,469.5 401.0,467.7 402.0,466.7 C403.0,465.7 406.1,461.5 407.0,460.4 C407.9,459.3 410.3,456.4 410.9,455.3 C411.5,454.2 413.0,451.3 413.4,448.9 C413.8,446.5 414.7,434.7 415.3,431.1 C415.9,427.5 418.3,416.2 419.1,413.3 C419.9,410.4 422.3,403.1 422.9,401.8 C423.5,400.5 424.8,400.4 425.4,400.0 C426.0,399.6 428.0,397.7 428.5,397.5 C429.0,397.3 429.9,397.6 430.5,398.0 C431.1,398.4 433.6,400.9 434.4,401.8 C435.2,402.7 437.4,406.1 438.2,406.9 C439.0,407.7 441.2,409.0 442.0,409.4 C442.8,409.8 445.0,410.8 445.8,411.2 C446.6,411.6 449.0,413.4 449.6,413.3 C450.2,413.2 451.8,412.2 452.2,410.7 C452.6,409.2 453.6,400.0 453.9,398.0 C454.2,396.0 454.9,389.9 455.2,390.4 C455.5,390.9 456.2,400.8 456.5,403.1 C456.8,405.4 457.7,412.8 458.0,413.3 C458.3,413.8 459.4,409.5 459.8,408.2 C460.2,406.9 461.2,399.8 461.6,400.0 C462.0,400.2 463.2,410.3 463.6,410.7 C464.0,411.1 465.1,405.3 465.6,404.4 C466.1,403.5 467.7,401.3 468.2,401.8 C468.7,402.3 470.1,408.0 470.7,409.4 C471.3,410.8 473.2,415.7 473.8,415.8 C474.4,415.9 475.8,411.5 476.3,410.7 C476.8,409.9 477.9,407.8 478.4,408.2 C478.9,408.6 480.4,414.1 480.9,414.5 C481.4,414.9 482.9,412.3 483.5,412.7 C484.1,413.1 485.9,418.0 486.5,418.3 C487.1,418.6 488.5,415.5 489.1,415.8 C489.7,416.1 491.4,420.1 492.1,420.9 C492.8,421.7 495.4,422.8 496.2,423.4 C497.0,424.0 499.0,426.8 499.7,426.5 C500.4,426.2 502.5,420.4 503.1,420.9 C503.7,421.4 505.1,430.9 505.6,431.1 C506.1,431.4 507.6,423.3 508.1,423.4 C508.6,423.5 510.2,431.9 510.7,432.3 C511.2,432.7 512.8,426.8 513.2,427.3 C513.6,427.8 514.6,437.5 515.0,437.4 C515.4,437.3 517.1,426.4 517.6,426.0 C518.1,425.6 519.1,432.6 519.6,433.6 C520.1,434.6 521.6,435.1 522.1,435.6 C522.6,436.1 524.0,437.9 524.2,438.2" stroke="#9C179E"/>
<path d="M167.1,527.3 C168.2,527.4 176.2,528.3 177.8,528.5 C179.4,528.7 182.1,529.3 182.9,529.3 C183.7,529.3 184.9,528.4 185.4,528.5 C185.9,528.6 187.0,530.0 188.0,530.3 C189.0,530.6 193.8,531.5 195.6,531.6 C197.4,531.8 203.8,531.8 205.8,531.8 C207.8,531.8 214.2,531.4 216.0,531.1 C217.8,530.8 222.1,529.4 223.6,529.0 C225.1,528.6 230.0,527.5 231.2,527.3 C232.3,527.0 234.5,526.9 235.1,526.5 C235.7,526.1 237.2,524.0 237.6,523.4 C238.0,522.8 239.2,521.0 239.6,520.9 C240.0,520.8 241.0,521.6 241.4,522.2 C241.8,522.8 243.2,526.0 244.0,526.6 C244.8,527.2 248.0,528.5 249.1,528.5 C250.2,528.5 254.0,527.4 255.4,526.6 C256.8,525.8 261.8,521.1 263.1,520.3 C264.4,519.5 267.1,519.3 268.2,519.0 C269.3,518.7 273.5,517.6 274.5,517.1 C275.5,516.6 277.6,514.9 278.3,514.5 C279.0,514.1 281.0,513.6 281.6,513.3 C282.2,513.0 284.1,511.3 284.7,511.2 C285.3,511.1 286.4,512.4 287.2,512.7 C288.0,513.0 291.3,513.6 292.3,513.8 C293.3,514.0 296.3,514.2 297.6,514.3 C298.9,514.3 304.0,514.5 305.3,514.3 C306.6,514.1 309.4,513.2 310.4,512.5 C311.4,511.8 314.4,508.7 315.4,507.4 C316.4,506.1 319.5,501.2 320.5,499.8 C321.5,498.4 324.6,494.4 325.6,493.4 C326.6,492.4 329.7,490.2 330.7,489.6 C331.7,489.0 334.9,487.5 335.8,487.1 C336.7,486.7 339.1,485.7 339.6,485.3 C340.1,484.9 340.6,482.7 340.9,482.7 C341.2,482.7 342.4,485.3 342.9,485.3 C343.4,485.3 345.4,483.1 346.0,482.7 C346.6,482.3 348.4,481.3 349.0,481.2 C349.6,481.1 351.6,482.0 352.3,482.0 C353.0,482.0 355.1,481.4 356.2,481.2 C357.3,481.0 362.3,480.4 363.8,480.2 C365.3,480.0 369.9,479.6 371.4,479.4 C372.9,479.1 377.6,477.9 379.1,477.7 C380.6,477.4 385.2,477.1 386.7,476.9 C388.2,476.7 392.8,475.9 394.3,475.6 C395.8,475.4 400.7,474.8 402.0,474.4 C403.3,474.0 406.0,472.6 407.0,471.8 C408.0,471.0 411.1,467.8 412.1,466.7 C413.1,465.6 416.4,461.5 417.2,460.4 C418.0,459.2 419.6,456.3 420.4,455.2 C421.2,454.1 424.4,450.0 425.4,448.9 C426.4,447.8 429.6,444.7 430.5,443.8 C431.4,442.9 433.6,440.2 434.4,440.0 C435.2,439.8 437.3,441.3 438.2,441.8 C439.1,442.3 442.2,444.8 443.3,445.1 C444.4,445.4 448.6,445.5 449.6,445.1 C450.6,444.7 452.8,442.2 453.4,441.2 C454.0,440.2 455.1,434.9 455.5,434.9 C455.9,434.9 456.7,440.1 457.3,441.2 C457.9,442.3 460.3,445.9 461.1,445.8 C461.9,445.7 464.2,441.0 464.9,440.0 C465.6,439.0 467.6,435.8 468.2,435.6 C468.8,435.4 470.4,437.4 471.2,438.2 C472.0,439.0 475.3,443.0 476.3,443.8 C477.3,444.6 480.4,446.1 481.4,446.3 C482.4,446.5 485.6,446.2 486.5,445.8 C487.4,445.4 489.7,443.0 490.3,442.5 C490.9,442.0 492.4,441.0 492.9,440.7 C493.4,440.4 494.8,438.9 495.4,439.2 C496.0,439.5 498.3,442.8 499.2,443.8 C500.1,444.8 503.3,448.6 504.3,449.4 C505.3,450.2 508.4,451.7 509.4,451.4 C510.4,451.1 513.2,446.6 514.0,446.3 C514.8,446.1 516.3,448.5 517.0,448.9 C517.7,449.3 520.2,449.8 520.9,450.2 C521.6,450.6 523.9,452.4 524.2,452.7" stroke="#0D0887"/>
</g>
<text x="87.7" y="434.9" font-size="12" textLength="70.4" lengthAdjust="spacingAndGlyphs">Offset = + 0.70</text>
<text x="87.7" y="459" font-size="12" textLength="70.4" lengthAdjust="spacingAndGlyphs">Offset = + 0.53</text>
<text x="88.2" y="502.8" font-size="12" textLength="70.4" lengthAdjust="spacingAndGlyphs">Offset = + 0.23</text>
<g fill="none" stroke="#111" stroke-width="1.3">
<line x1="49.9" y1="271" x2="49.9" y2="542.5"/><line x1="542.5" y1="271" x2="542.5" y2="542.5" stroke="#2a2a2a"/><line x1="49.9" y1="542.5" x2="542.5" y2="542.5"/><line x1="49.9" y1="270.9" x2="542.5" y2="270.9" stroke="#5c5c5c" stroke-width="1.9"/>
<line x1="41" y1="289.5" x2="50" y2="289.5"/>
<line x1="41" y1="358.4" x2="50" y2="358.4"/>
<line x1="41" y1="427.4" x2="50" y2="427.4"/>
<line x1="41" y1="496.4" x2="50" y2="496.4"/>
<line x1="107.6" y1="542.4" x2="107.6" y2="547.8"/>
<line x1="206.9" y1="542.4" x2="206.9" y2="547.8"/>
<line x1="306.2" y1="542.4" x2="306.2" y2="547.8"/>
<line x1="405.5" y1="542.4" x2="405.5" y2="547.8"/>
<line x1="504.75" y1="542.4" x2="504.75" y2="547.8"/>
</g>
<text transform="translate(32,289.4) rotate(-90)" text-anchor="middle" font-size="13.6" textLength="14.6" lengthAdjust="spacingAndGlyphs">2.0</text>
<text transform="translate(32,358.8) rotate(-90)" text-anchor="middle" font-size="13.6" textLength="14.6" lengthAdjust="spacingAndGlyphs">1.5</text>
<text transform="translate(32,427.1) rotate(-90)" text-anchor="middle" font-size="13.6" textLength="14.6" lengthAdjust="spacingAndGlyphs">1.0</text>
<text transform="translate(32,496.1) rotate(-90)" text-anchor="middle" font-size="13.6" textLength="14.6" lengthAdjust="spacingAndGlyphs">0.5</text>
<text x="108.39999999999999" y="568.9" text-anchor="middle" font-size="13.6">500</text>
<text x="207.70000000000002" y="568.9" text-anchor="middle" font-size="13.6">1000</text>
<text x="307.0" y="568.9" text-anchor="middle" font-size="13.6">1500</text>
<text x="406.3" y="568.9" text-anchor="middle" font-size="13.6">2000</text>
<text x="505.55" y="568.9" text-anchor="middle" font-size="13.6">2500</text>
<text x="247" y="585.7" font-size="14" textLength="96.7" lengthAdjust="spacingAndGlyphs">Wavelength (nm)</text>
<text transform="translate(15.1,408.7) rotate(-90)" text-anchor="middle" font-size="12.2" textLength="63.5" lengthAdjust="spacingAndGlyphs">Absorbance</text>
<rect x="509.6" y="271" width="32.7" height="33" fill="#fff" stroke="#333" stroke-width="1.2"/>
<text x="520" y="295" font-size="21" textLength="12" lengthAdjust="spacingAndGlyphs">B</text>
<rect x="50" y="271" width="97.4" height="64.6" fill="#fff" stroke="#333" stroke-width="1"/>
<text x="59.1" y="286.5" font-size="11.6" textLength="23.7" lengthAdjust="spacingAndGlyphs">Urea</text>
<line x1="86.6" y1="282.1" x2="106.3" y2="282.1" stroke="#EEEE1A" stroke-width="1.4"/>
<text x="59.1" y="300.1" font-size="11.6" textLength="50.4" lengthAdjust="spacingAndGlyphs">Melamine</text>
<line x1="114" y1="296.4" x2="133.5" y2="296.4" stroke="#F7883A" stroke-width="1.1"/>
<text x="59.1" y="314" font-size="11.6" textLength="38.6" lengthAdjust="spacingAndGlyphs">Taurine</text>
<line x1="101.3" y1="310.7" x2="121" y2="310.7" stroke="#9933CC" stroke-width="1.5"/>
<text x="59.1" y="327.6" font-size="11.6" textLength="38.4" lengthAdjust="spacingAndGlyphs">Glycine</text>
<line x1="100.8" y1="323.8" x2="120.6" y2="323.8" stroke="#4B44BB" stroke-width="1.5"/>
</svg></body></html>
